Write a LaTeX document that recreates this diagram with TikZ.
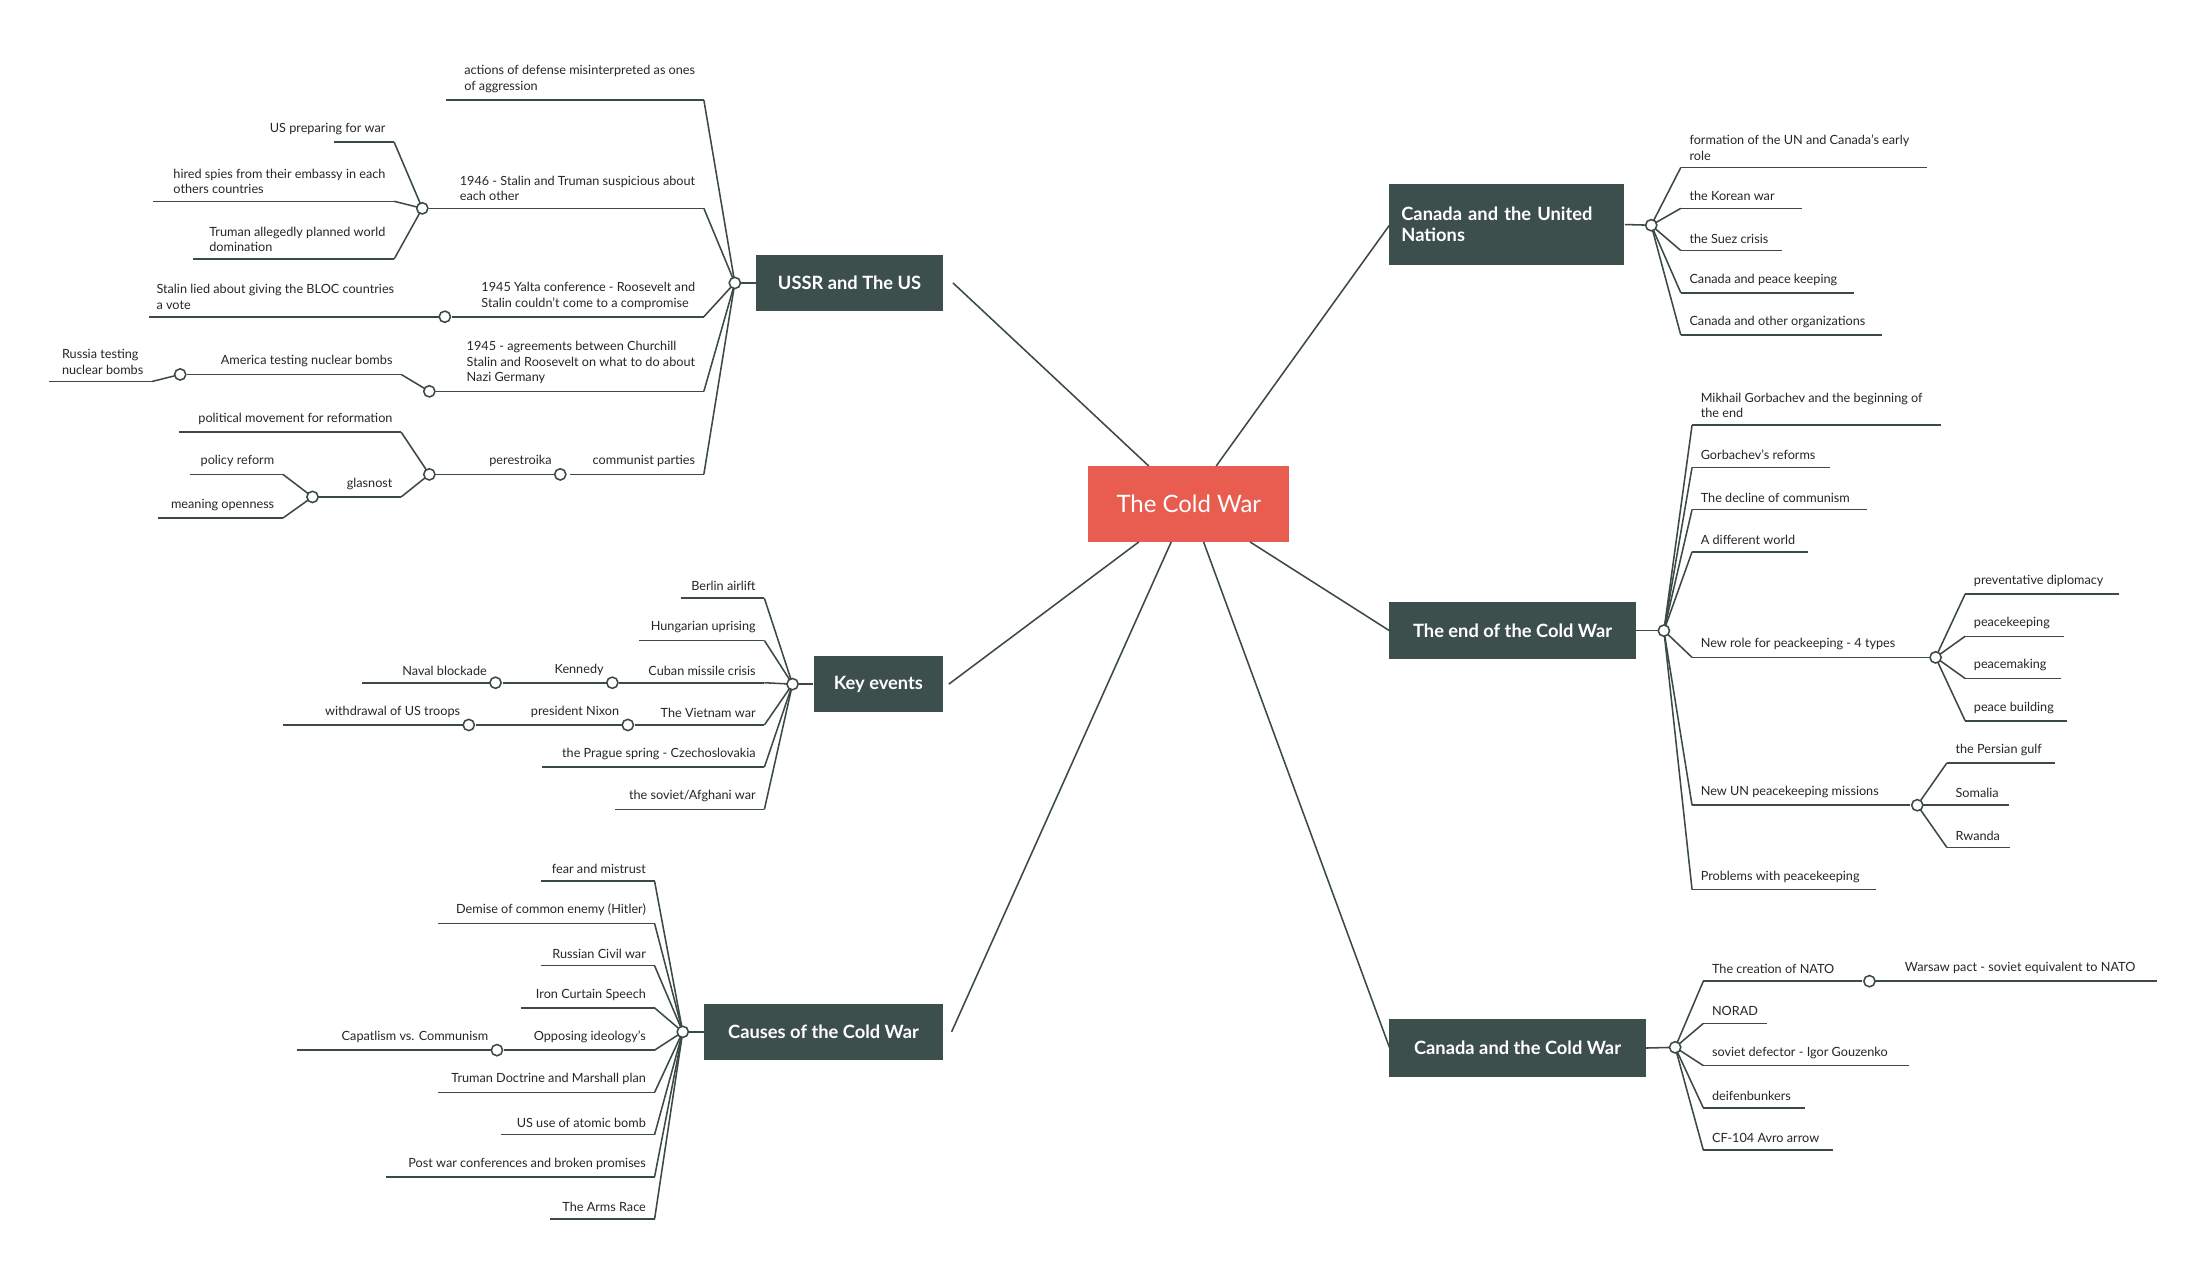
\documentclass[tikz,border=0pt]{standalone}
\usepackage{fontspec}
\setmainfont{Lato}
\definecolor{dk}{HTML}{3B4A48}
\definecolor{bx}{HTML}{3D4F4C}
\definecolor{rd}{HTML}{E85D50}
\tikzset{
 ln/.style={draw=dk,line width=1.1pt},
 lbl/.style={font=\fontsize{9}{11}\selectfont,text=black!85,inner sep=1pt,align=left},
 jn/.style={circle,draw=dk,line width=1.1pt,fill=white,inner sep=0,minimum size=8pt},
 box/.style={fill=bx,text=white,font=\fontsize{13}{15}\selectfont\bfseries,inner sep=0,align=center},
}
\newcommand\LL[5]{\coordinate (#1a) at (#2,#4); \coordinate (#1b) at (#3,#4); \draw[ln] (#1a)--(#1b); \node[lbl,anchor=south east] (#1) at ({#3-5},{#4-4}) {#5};}
\newcommand\RL[5]{\coordinate (#1a) at (#2,#4); \coordinate (#1b) at (#3,#4); \draw[ln] (#1a)--(#1b); \node[lbl,anchor=south west] (#1) at ({#2+5},{#4-4}) {#5};}
\begin{document}
\begin{tikzpicture}[x=1pt,y=-1pt]
\useasboundingbox (0,0) rectangle (1560,896);
% main boxes
\node[fill=rd,text=white,font=\fontsize{17}{19}\selectfont,minimum width=143pt,minimum height=54pt,inner sep=0] (c) at (844.5,358) {The Cold War};
\node[box,minimum width=133pt,minimum height=40pt] (ussr) at (603.5,201) {USSR and The US};
\node[box,minimum width=167pt,minimum height=57pt,align=left,text width=150pt] (un) at (1070.5,159.5) {Canada and the United\\Nations};
\node[box,minimum width=92pt,minimum height=40pt] (ke) at (624,486) {Key events};
\node[box,minimum width=170pt,minimum height=40pt] (ca) at (585,733) {Causes of the Cold War};
\node[box,minimum width=175pt,minimum height=40pt] (end) at (1074.5,448) {The end of the Cold War};
\node[box,minimum width=182pt,minimum height=41pt] (ccw) at (1078,744.5) {Canada and the Cold War};
\draw[ln] (816,331)--(677,201);
\draw[ln] (864,331)--(987,160);
\draw[ln] (809,385)--(674,486);
\draw[ln] (832,385)--(676,733);
\draw[ln] (888,385)--(987,448);
\draw[ln] (855,385)--(987,744);
% USSR
\coordinate (uj) at (522,201);
\draw[ln] (ussr.west)--(uj);
\LL{u1}{317}{500}{71}{actions of defense misinterpreted as ones\\of aggression}
\LL{u2}{305}{500}{148}{1946 - Stalin and Truman suspicious about\\each other}
\LL{u3}{321}{500}{225}{1945 Yalta conference - Roosevelt and\\Stalin couldn't come to a compromise}
\LL{u4}{310}{500}{278}{1945 - agreements between Churchill\\Stalin and Roosevelt on what to do about\\Nazi Germany}
\LL{u5}{405}{500}{337}{communist parties}
\foreach \i in {1,...,5} \draw[ln] (uj)--(u\i b);
\coordinate (u2j) at (300,148);
\LL{u21}{237}{280}{101}{US preparing for war}
\LL{u22}{109}{280}{143}{hired spies from their embassy in each\\others countries}
\LL{u23}{137}{280}{184}{Truman allegedly planned world\\domination}
\foreach \i in {1,2,3} \draw[ln] (u2j)--(u2\i b);
\coordinate (u3j) at (316,225);
\draw[ln] (106,225)--(u3j);
\node[lbl,anchor=south west] (u31) at (110,221) {Stalin lied about giving the BLOC countries\\a vote};
\coordinate (u4j) at (305,278);
\LL{u41}{133}{285}{266}{America testing nuclear bombs}
\draw[ln] (u4j)--(u41b);
\coordinate (u41j) at (128,266);
\LL{u42}{35}{108}{271}{Russia testing\\nuclear bombs}
\draw[ln] (u41j)--(u42b);
\coordinate (u5j) at (398,337);
\LL{u51}{310}{398}{337}{perestroika}
\coordinate (u51j) at (305,337);
\LL{u511}{127}{285}{307}{political movement for reformation}
\LL{u512}{226}{285}{353}{glasnost}
\draw[ln] (u51j)--(u511b); \draw[ln] (u51j)--(u512b);
\coordinate (u512j) at (222,353);
\LL{u5121}{135}{201}{337}{policy reform}
\LL{u5122}{112}{201}{368}{meaning openness}
\draw[ln] (u512j)--(u5121b); \draw[ln] (u512j)--(u5122b);
\foreach \p in {uj,u2j,u3j,u4j,u41j,u5j,u51j,u512j} \node[jn] at (\p) {};
% Canada UN
\coordinate (nj) at (1173,160);
\draw[ln] (un.east)--(nj);
\RL{n1}{1194}{1369}{119}{formation of the UN and Canada's early\\role}
\RL{n2}{1194}{1280}{148}{the Korean war}
\RL{n3}{1194}{1266}{178}{the Suez crisis}
\RL{n4}{1194}{1317}{208}{Canada and peace keeping}
\RL{n5}{1194}{1337}{238}{Canada and other organizations}
\foreach \i in {1,...,5} \draw[ln] (nj)--(n\i a);
\node[jn] at (nj) {};
% End
\coordinate (ej) at (1182,448);
\draw[ln] (end.east)--(ej);
\RL{e1}{1202}{1379}{302}{Mikhail Gorbachev and the beginning of\\the end}
\RL{e2}{1202}{1300}{332}{Gorbachev's reforms}
\RL{e3}{1202}{1326}{362}{The decline of communism}
\RL{e4}{1202}{1284}{392}{A different world}
\RL{e5}{1202}{1370}{467}{New role for peackeeping - 4 types}
\RL{e6}{1202}{1357}{572}{New UN peacekeeping missions}
\RL{e7}{1202}{1333}{632}{Problems with peacekeeping}
\foreach \i in {1,...,7} \draw[ln] (ej)--(e\i a);
\coordinate (e5j) at (1375,467);
\RL{e51}{1396}{1505}{422}{preventative diplomacy}
\RL{e52}{1396}{1466}{452}{peacekeeping}
\RL{e53}{1396}{1464}{482}{peacemaking}
\RL{e54}{1396}{1468}{512}{peace building}
\foreach \i in {1,...,4} \draw[ln] (e5j)--(e5\i a);
\coordinate (e6j) at (1362,572);
\RL{e61}{1383}{1460}{542}{the Persian gulf}
\RL{e62}{1383}{1427}{572}{Somalia}
\RL{e63}{1383}{1428}{602}{Rwanda}
\foreach \i in {1,...,3} \draw[ln] (e6j)--(e6\i a);
\foreach \p in {ej,e5j,e6j} \node[jn] at (\p) {};
% Canada Cold War
\coordinate (kj) at (1190,744);
\draw[ln] (ccw.east)--(kj);
\RL{k1}{1210}{1323}{697}{The creation of NATO}
\RL{k2}{1210}{1255}{727}{NORAD}
\RL{k3}{1210}{1356}{757}{soviet defector - Igor Gouzenko}
\RL{k4}{1210}{1282}{787}{deifenbunkers}
\RL{k5}{1210}{1302}{817}{CF-104 Avro arrow}
\foreach \i in {1,...,5} \draw[ln] (kj)--(k\i a);
\coordinate (k1j) at (1328,697);
\draw[ln] (k1j)--(1532,697);
\node[lbl,anchor=south west] (k11) at (1352,693) {Warsaw pact - soviet equivalent to NATO};
\foreach \p in {kj,k1j} \node[jn] at (\p) {};
% Key events
\coordinate (vj) at (563,486);
\draw[ln] (ke.west)--(vj);
\LL{v1}{484}{543}{425}{Berlin airlift}
\LL{v2}{454}{543}{455}{Hungarian uprising}
\LL{v3}{440}{543}{485}{Cuban missile crisis}
\LL{v4}{451}{543}{515}{The Vietnam war}
\LL{v5}{385}{543}{545}{the Prague spring - Czechoslovakia}
\LL{v6}{437}{543}{575}{the soviet/Afghani war}
\foreach \i in {1,...,6} \draw[ln] (vj)--(v\i b);
\coordinate (v3j) at (435,485);
\LL{v31}{357}{435}{485}{Kennedy}
\coordinate (v31j) at (352,485);
\LL{v311}{257}{352}{485}{Naval blockade}
\coordinate (v4j) at (446,515);
\LL{v41}{338}{446}{515}{president Nixon}
\coordinate (v41j) at (333,515);
\LL{v411}{201}{333}{515}{withdrawal of US troops}
\foreach \p in {vj,v3j,v31j,v4j,v41j} \node[jn] at (\p) {};
% Causes
\coordinate (cj) at (485,733);
\draw[ln] (ca.west)--(cj);
\LL{c1}{384}{465}{626}{fear and mistrust}
\LL{c2}{311}{465}{656}{Demise of common enemy (Hitler)}
\LL{c3}{384}{465}{686}{Russian Civil war}
\LL{c4}{370}{465}{716}{Iron Curtain Speech}
\LL{c5}{358}{465}{746}{Opposing ideology's}
\LL{c6}{311}{465}{776}{Truman Doctrine and Marshall plan}
\LL{c7}{356}{465}{806}{US use of atomic bomb}
\LL{c8}{274}{465}{836}{Post war conferences and broken promises}
\LL{c9}{391}{465}{866}{The Arms Race}
\foreach \i in {1,...,9} \draw[ln] (cj)--(c\i b);
\coordinate (c5j) at (353,746);
\LL{c51}{211}{353}{746}{Capatlism vs. Communism}
\foreach \p in {cj,c5j} \node[jn] at (\p) {};
\end{tikzpicture}
\end{document}
